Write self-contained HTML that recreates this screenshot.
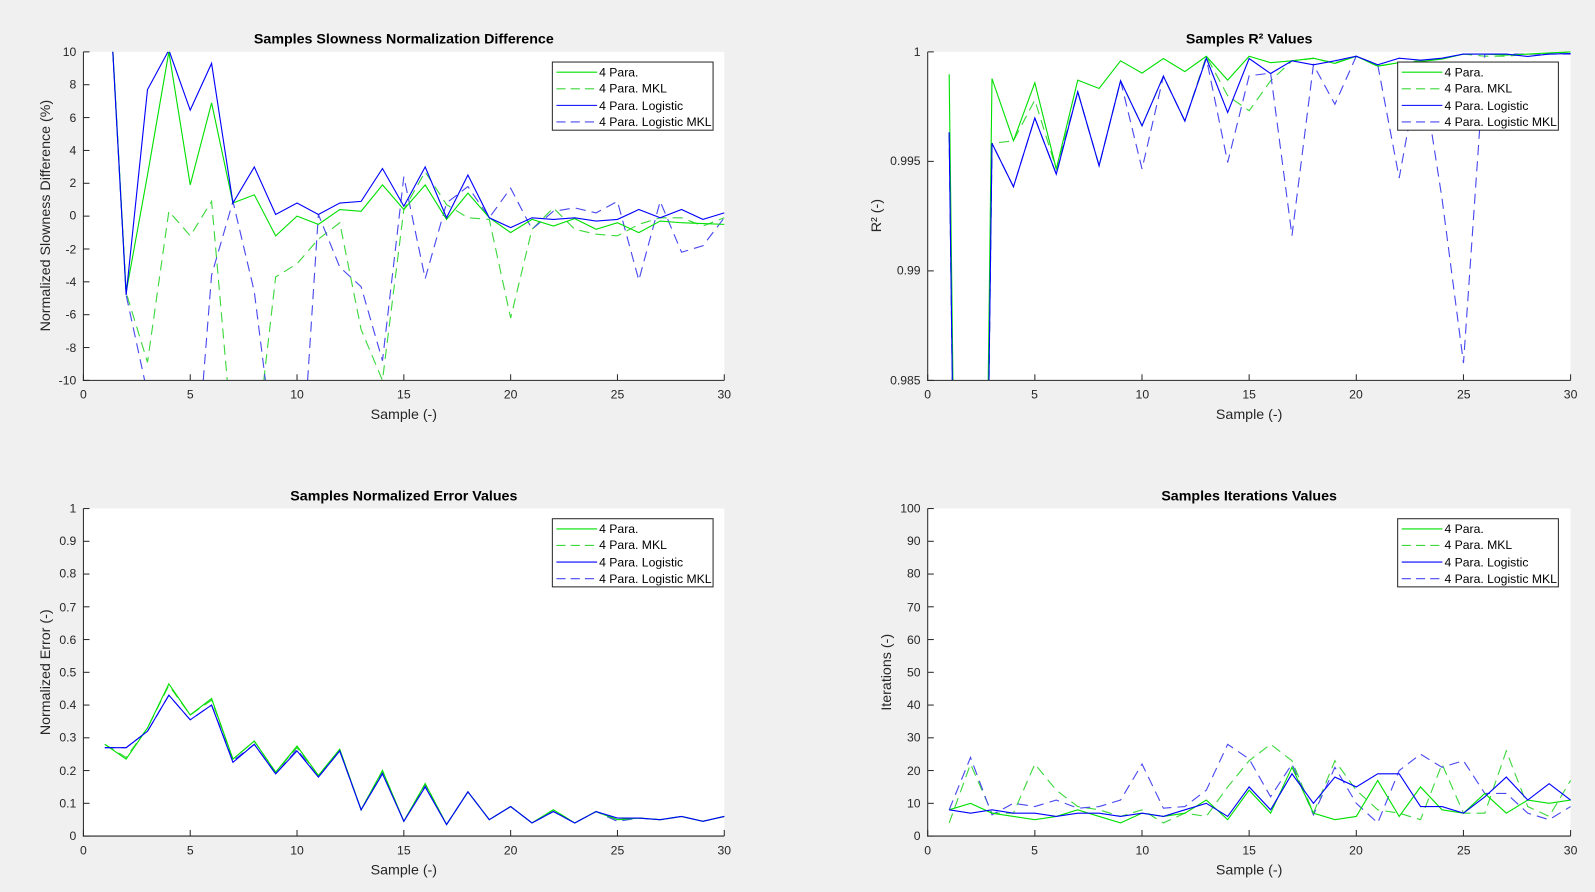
<!DOCTYPE html>
<html><head><meta charset="utf-8"><style>
html,body{margin:0;padding:0;background:#f0f0f0;width:1595px;height:892px;overflow:hidden;}
svg{display:block;font-family:"Liberation Sans",Arial,sans-serif;}
.tk{font-size:12px;fill:#262626;}
.ttl{font-size:14px;font-weight:bold;fill:#000;}
.lbl{font-size:14px;fill:#262626;}
.lg{font-size:12px;fill:#000;}
</style></head><body>
<svg id="s" width="1595" height="892" viewBox="0 0 1568 877" preserveAspectRatio="none" xmlns="http://www.w3.org/2000/svg">
<rect x="0" y="0" width="1568" height="877" fill="#f0f0f0"/>
<rect x="82" y="51" width="630" height="323" fill="#fff"/>
<rect x="912" y="51" width="632" height="323" fill="#fff"/>
<rect x="82" y="500" width="630" height="322" fill="#fff"/>
<rect x="912" y="500" width="632" height="322" fill="#fff"/>
<g id="series"></g>
<g id="axes" stroke="#262626" stroke-width="1" fill="none"></g>

<text class="ttl" x="397" y="43" text-anchor="middle">Samples Slowness Normalization Difference</text>
<text class="ttl" x="1228" y="43" text-anchor="middle">Samples R² Values</text>
<text class="ttl" x="397" y="492" text-anchor="middle">Samples Normalized Error Values</text>
<text class="ttl" x="1228" y="492" text-anchor="middle">Samples Iterations Values</text>
<text class="lbl" x="397" y="412" text-anchor="middle">Sample (-)</text>
<text class="lbl" x="1228" y="412" text-anchor="middle">Sample (-)</text>
<text class="lbl" x="397" y="860" text-anchor="middle">Sample (-)</text>
<text class="lbl" x="1228" y="860" text-anchor="middle">Sample (-)</text>
<text class="lbl" transform="translate(49,212) rotate(-90)" text-anchor="middle">Normalized Slowness Difference (%)</text>
<text class="lbl" transform="translate(866,212) rotate(-90)" text-anchor="middle">R² (-)</text>
<text class="lbl" transform="translate(49,661) rotate(-90)" text-anchor="middle">Normalized Error (-)</text>
<text class="lbl" transform="translate(876,661) rotate(-90)" text-anchor="middle">Iterations (-)</text>

<g class="tk" text-anchor="middle">
<text x="82" y="392">0</text><text x="187" y="392">5</text><text x="292" y="392">10</text><text x="397" y="392">15</text><text x="502" y="392">20</text><text x="607" y="392">25</text><text x="712" y="392">30</text>
<text x="912" y="392">0</text><text x="1017" y="392">5</text><text x="1123" y="392">10</text><text x="1228" y="392">15</text><text x="1333" y="392">20</text><text x="1439" y="392">25</text><text x="1544" y="392">30</text>
<text x="82" y="840">0</text><text x="187" y="840">5</text><text x="292" y="840">10</text><text x="397" y="840">15</text><text x="502" y="840">20</text><text x="607" y="840">25</text><text x="712" y="840">30</text>
<text x="912" y="840">0</text><text x="1017" y="840">5</text><text x="1123" y="840">10</text><text x="1228" y="840">15</text><text x="1333" y="840">20</text><text x="1439" y="840">25</text><text x="1544" y="840">30</text>
</g>
<g class="tk" text-anchor="end">
<text x="75" y="55">10</text><text x="75" y="87">8</text><text x="75" y="120">6</text><text x="75" y="152">4</text><text x="75" y="184">2</text><text x="75" y="216">0</text><text x="75" y="249">-2</text><text x="75" y="281">-4</text><text x="75" y="313">-6</text><text x="75" y="346">-8</text><text x="75" y="378">-10</text>
<text x="905" y="55">1</text><text x="905" y="162">0.995</text><text x="905" y="270">0.99</text><text x="905" y="378">0.985</text>
<text x="75" y="504">1</text><text x="75" y="536">0.9</text><text x="75" y="568">0.8</text><text x="75" y="601">0.7</text><text x="75" y="633">0.6</text><text x="75" y="665">0.5</text><text x="75" y="697">0.4</text><text x="75" y="729">0.3</text><text x="75" y="762">0.2</text><text x="75" y="794">0.1</text><text x="75" y="826">0</text>
<text x="905" y="504">100</text><text x="905" y="536">90</text><text x="905" y="568">80</text><text x="905" y="601">70</text><text x="905" y="633">60</text><text x="905" y="665">50</text><text x="905" y="697">40</text><text x="905" y="729">30</text><text x="905" y="762">20</text><text x="905" y="794">10</text><text x="905" y="826">0</text>
</g>

<g id="legends"></g>
<g class="lg">
<text x="589" y="75">4 Para.</text><text x="589" y="91">4 Para. MKL</text><text x="589" y="108">4 Para. Logistic</text><text x="589" y="124">4 Para. Logistic MKL</text>
<text x="1420" y="75">4 Para.</text><text x="1420" y="91">4 Para. MKL</text><text x="1420" y="108">4 Para. Logistic</text><text x="1420" y="124">4 Para. Logistic MKL</text>
<text x="589" y="524">4 Para.</text><text x="589" y="540">4 Para. MKL</text><text x="589" y="557">4 Para. Logistic</text><text x="589" y="573">4 Para. Logistic MKL</text>
<text x="1420" y="524">4 Para.</text><text x="1420" y="540">4 Para. MKL</text><text x="1420" y="557">4 Para. Logistic</text><text x="1420" y="573">4 Para. Logistic MKL</text>
</g>
</svg>
<script>
var NS="http://www.w3.org/2000/svg";
function el(p,t,a){var e=document.createElementNS(NS,t);for(var k in a)e.setAttribute(k,a[k]);p.appendChild(e);return e;}
var S=document.getElementById('series'),A=document.getElementById('axes'),L=document.getElementById('legends');
var G="#00e000",B="#0000ff",GD="#3cd83c",BD="#4848f0";
var ax=[
 {x0:82,x1:712,y0:51,y1:374,ymin:-10,ymax:10,yt:[-10,-8,-6,-4,-2,0,2,4,6,8,10],lx:543},
 {x0:912,x1:1544,y0:51,y1:374,ymin:0.985,ymax:1,yt:[0.985,0.99,0.995,1],lx:1374},
 {x0:82,x1:712,y0:500,y1:822,ymin:0,ymax:1,yt:[0,.1,.2,.3,.4,.5,.6,.7,.8,.9,1],lx:543},
 {x0:912,x1:1544,y0:500,y1:822,ymin:0,ymax:100,yt:[0,10,20,30,40,50,60,70,80,90,100],lx:1374}
];
var D=[
 [
  [19,-4.65,2.5,10,1.9,6.9,0.8,1.3,-1.2,0,-0.5,0.4,0.3,1.9,0.4,1.9,-0.2,1.4,-0.1,-1,-0.2,-0.6,-0.15,-0.8,-0.4,-1,-0.3,-0.4,-0.45,-0.5],
  [19,-4.65,-8.9,0.3,-1.2,0.9,-14,-15,-3.7,-2.9,-1.4,-0.4,-6.9,-10,0.4,2.7,0.7,-0.1,-0.2,-6.2,-0.8,0.5,-0.8,-1.1,-1.2,-0.5,-0.1,-0.1,-0.6,-0.1],
  [19,-4.8,7.7,10.1,6.45,9.3,0.8,3,0.1,0.8,0.1,0.8,0.9,2.9,0.6,3,-0.1,2.5,-0.1,-0.7,-0.1,-0.2,-0.1,-0.3,-0.2,0.4,-0.1,0.4,-0.2,0.2],
  [19,-4.8,-10.8,-25,-20,-3.6,0.9,-4.6,-15,-20,0.1,-3.1,-4.3,-8.8,2.4,-3.8,0.8,1.8,-0.1,1.7,-0.8,0.3,0.5,0.2,0.9,-3.9,0.9,-2.2,-1.8,-0.1]
 ],
 [
  [0.99898,0.92,0.99878,0.99594,0.99859,0.99465,0.99871,0.99833,0.99959,0.99903,0.9997,0.9991,0.9998,0.99871,0.9998,0.99951,0.99959,0.99971,0.99947,0.9998,0.99935,0.99951,0.99956,0.99967,0.9999,0.9999,0.99985,0.9999,0.99995,1],
  [0.99632,0.92,0.99582,0.99594,0.9978,0.99465,0.99818,0.9948,0.99868,0.99663,0.99889,0.99684,0.9998,0.998,0.99731,0.99868,0.99959,0.9997,0.9995,0.9998,0.99935,0.9995,0.9996,0.9997,0.9999,0.9998,0.9998,0.9999,0.9999,1],
  [0.99632,0.92,0.99582,0.99384,0.99698,0.99442,0.99818,0.9948,0.99868,0.99663,0.99889,0.99684,0.99971,0.99723,0.9997,0.99901,0.99959,0.99941,0.99959,0.9998,0.99941,0.99971,0.99962,0.99971,0.9999,0.9999,0.9999,0.99979,0.9999,0.99992],
  [0.99632,0.92,0.99582,0.99384,0.99698,0.99442,0.99818,0.9948,0.99868,0.99465,0.99889,0.99684,0.99971,0.99495,0.99891,0.99903,0.99161,0.99941,0.99761,0.9998,0.99941,0.99424,0.9996,0.99331,0.98579,0.9999,0.9999,0.9999,0.9999,0.9999]
 ],
 [
  [.28,.235,.33,.465,.37,.42,.235,.29,.195,.275,.185,.265,.08,.2,.045,.16,.035,.135,.05,.09,.04,.08,.04,.075,.05,.055,.05,.06,.045,.06],
  [.28,.24,.33,.46,.37,.415,.235,.29,.195,.27,.185,.265,.08,.2,.045,.16,.035,.135,.05,.09,.04,.08,.04,.075,.05,.055,.05,.06,.045,.06],
  [.27,.27,.32,.43,.355,.4,.225,.28,.19,.26,.18,.26,.08,.19,.045,.15,.035,.135,.05,.09,.04,.075,.04,.075,.055,.055,.05,.06,.045,.06],
  [.27,.27,.32,.43,.355,.4,.23,.28,.19,.265,.18,.26,.08,.195,.045,.155,.035,.135,.05,.09,.04,.075,.04,.075,.045,.055,.05,.06,.045,.06]
 ],
 [
  [8,10,7,6,5,6,8,6,4,7,6,7,11,5,14,7,21,7,5,6,17,6,15,8,7,13,7,11,10,11],
  [4,22,7,7,22,14,9,8,6,8,4,7,6,15,23,28,23,7,23,14,8,7,5,22,7,7,26,9,6,17],
  [8,7,8,7,7,6,7,7,6,7,6,8,10,6,15,8,19,10,18,15,19,19,9,9,7,12,18,11,16,11],
  [8,24,6.5,10,9,11,8.5,9,11,22,8.5,9,14,28,23.5,12,22,6.5,21,10,4,20,25,21,23,13,13,7,5,9]
 ]
];
var styles=[{c:G,d:null},{c:GD,d:"10 6"},{c:B,d:null},{c:BD,d:"10 6"}];
function clipSeg(xa,ya,xb,yb,lo,hi){
  // clip segment in data space to lo<=y<=hi; returns null or [xa,ya,xb,yb]
  var t0=0,t1=1,dy=yb-ya;
  if(dy===0){ if(ya<lo||ya>hi) return null; return [xa,ya,xb,yb]; }
  var ta=(lo-ya)/dy, tb=(hi-ya)/dy;
  var tmin=Math.min(ta,tb), tmax=Math.max(ta,tb);
  t0=Math.max(t0,tmin); t1=Math.min(t1,tmax);
  if(t0>t1) return null;
  return [xa+(xb-xa)*t0, ya+dy*t0, xa+(xb-xa)*t1, ya+dy*t1];
}
ax.forEach(function(a,i){
  var g=el(S,'g',{});
  function px(x){return a.x0+(a.x1-a.x0)*x/30;}
  function py(v){return a.y1-(a.y1-a.y0)*(v-a.ymin)/(a.ymax-a.ymin);}
  [1,3,0,2].forEach(function(k){
    var d=D[i][k], path="", last=null;
    for(var j=0;j<d.length-1;j++){
      var c=clipSeg(j+1,d[j],j+2,d[j+1],a.ymin,a.ymax);
      if(!c){last=null;continue;}
      var X0=px(c[0]).toFixed(1),Y0=py(c[1]).toFixed(1),X1=px(c[2]).toFixed(1),Y1=py(c[3]).toFixed(1);
      if(last===null||last!==X0+','+Y0) path+="M"+X0+","+Y0;
      path+="L"+X1+","+Y1;
      last=X1+','+Y1;
    }
    var at={d:path,fill:'none',stroke:styles[k].c,'stroke-width':1.1,'stroke-linejoin':'miter'};
    if(styles[k].d)at['stroke-dasharray']=styles[k].d;
    el(g,'path',at);
  });
  el(A,'line',{x1:a.x0,y1:a.y0,x2:a.x0,y2:a.y1+0.5});
  el(A,'line',{x1:a.x0-0.5,y1:a.y1,x2:a.x1,y2:a.y1});
  for(var t=0;t<=30;t+=5){var X=px(t);el(A,'line',{x1:X,y1:a.y1,x2:X,y2:a.y1-6});}
  a.yt.forEach(function(v){var Y=py(v);el(A,'line',{x1:a.x0,y1:Y,x2:a.x0+6,y2:Y});});
  var ly=(i<2)?61:510;
  el(L,'rect',{x:a.lx,y:ly,width:158,height:67,fill:'#fff',stroke:'#262626','stroke-width':1});
  [0,1,2,3].forEach(function(k){
    var yy=ly+10+k*16.3;
    var at={x1:a.lx+4,y1:yy,x2:a.lx+44,y2:yy,stroke:styles[k].c,'stroke-width':1.1};
    if(styles[k].d)at['stroke-dasharray']="9 5";
    el(L,'line',at);
  });
});
</script>
</body></html>
